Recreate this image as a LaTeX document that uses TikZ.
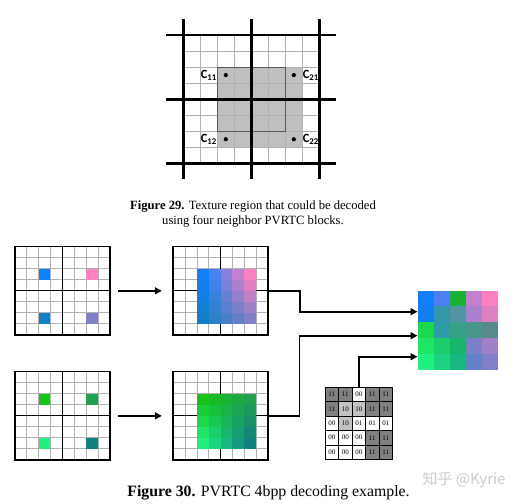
\documentclass[tikz,border=0pt]{standalone}
\usepackage{fontspec}
\setmainfont{Liberation Serif}
\newfontfamily\calfont{Carlito}
\newfontfamily\cjkfont{Noto Sans CJK SC}
\usetikzlibrary{arrows.meta,calc}
% corner colours of the two low-resolution images
\definecolor{bTL}{RGB}{16,128,255}
\definecolor{bTR}{RGB}{255,128,192}
\definecolor{bBL}{RGB}{16,128,200}
\definecolor{bBR}{RGB}{128,128,200}
\definecolor{aTL}{RGB}{20,196,24}
\definecolor{aTR}{RGB}{32,160,80}
\definecolor{aBL}{RGB}{32,240,128}
\definecolor{aBR}{RGB}{16,128,128}
\def\modrows{{11,11,00,11,11},{11,10,10,11,11},{00,10,01,01,01},{00,00,00,11,11},{00,00,00,11,11}}
\tikzset{
  fine/.style={draw=black!30, line width=0.7pt},
  heavy/.style={line width=2.8pt},
  blockframe/.style={line width=1.5pt},
  flow/.style={-{Triangle[length=7pt,width=7pt]}, line width=1.6pt},
  blockgrid/.style={minimum width=95pt, minimum height=88.3pt, inner sep=0pt},
  outimg/.style={minimum width=80.5pt, minimum height=79.5pt, inner sep=0pt},
  caption/.style={align=center, font=\fontsize{12.6}{14.5}\selectfont},
  cornerlabel/.style={font=\calfont\bfseries\fontsize{12.5}{12.5}\selectfont, inner sep=0pt},
  modcell/.style={draw, line width=0.6pt, minimum width=13.5pt, minimum height=14.4pt, inner sep=0pt, font=\fontsize{7}{7}\selectfont},
  pics/cellgrid/.style={code={
    \foreach \k in {1,...,7} \draw[fine] (\k,0) -- (\k,8) (0,\k) -- (8,\k);
    \draw[blockframe] (0,0) rectangle (8,8) (4,0) -- (4,8) (0,4) -- (8,4);
  }},
}

\begin{document}
\begin{tikzpicture}[x=1pt, y=-1pt]
  \fill[white] (0,0) rectangle (519,503);
  \useasboundingbox (0,0) rectangle (519,503);
  % Figure 29
  \begin{scope}[shift={(183.3,35)}, x=17pt, y=-16.04pt]
    \fill[black!25] (2,2) rectangle (7,7);
    \foreach \k in {1,...,7} \draw[fine] (\k,0) -- (\k,8) (0,\k) -- (8,\k);
    \draw[black!65, line width=0.8pt] (2,2) rectangle (6,6);
    \foreach \k in {0,4,8} \draw[heavy] (\k,-1) -- (\k,9) (-1,\k) -- (9,\k);
    \foreach \i/\j in {2/2,6/2,2/6,6/6} \fill (\i+0.5,\j+0.5) circle (2.1pt);
    \node[cornerlabel] (c11) at (1.5,2.5) {C\textsubscript{11}};
    \node[cornerlabel] (c21) at (7.5,2.5) {C\textsubscript{21}};
    \node[cornerlabel] (c12) at (1.5,6.5) {C\textsubscript{12}};
    \node[cornerlabel] (c22) at (7.5,6.5) {C\textsubscript{22}};
  \end{scope}
  \node[caption] (cap29) at (253,214) {\textbf{Figure 29.} Texture region that could be decoded\\using four neighbor PVRTC blocks.};
  % Figure 30: both low-res images and their upscaled versions
  \foreach \img/\gy in {b/246.7, a/371.7} {
    \node[blockgrid] (src\img) at (62.5,\gy+44.15) {};
    \node[blockgrid] (interp\img) at (220.8,\gy+44.15) {};
    \begin{scope}[shift={(src\img.north west)}, x=11.875pt, y=-11.04pt]
      \pic {cellgrid};
      \fill[fill=\img TL] (2,2) rectangle (3,3);
      \fill[fill=\img TR] (6,2) rectangle (7,3);
      \fill[fill=\img BL] (2,6) rectangle (3,7);
      \fill[fill=\img BR] (6,6) rectangle (7,7);
    \end{scope}
    \begin{scope}[shift={(interp\img.north west)}, x=11.875pt, y=-11.04pt]
      \pic {cellgrid};
      \foreach \i in {0,...,4} \foreach \j in {0,...,4} {
        \pgfmathsetmacro\p{25*\i}\pgfmathsetmacro\q{25*\j}
        \colorlet{rowtop}{\img TR!\p!\img TL}\colorlet{rowbot}{\img BR!\p!\img BL}
        \fill[fill=rowbot!\q!rowtop] (\i+2,\j+2) rectangle ++(1,1);
      }
    \end{scope}
    \draw[flow, shorten <=7.7pt, shorten >=11.3pt] (src\img) -- (interp\img);
  }
  % decoded output and modulation data
  \node[outimg] (out) at (457.95,330.45) {};
  \foreach \row [count=\j from 0] in \modrows
    \foreach \code [count=\i from 0] in \row {
      \pgfmathtruncatemacro\k{2*int(\code/10)+mod(\code,10)}
      \pgfmathsetmacro\w{{0,37.5,62.5,100}[\k]}
      \pgfmathsetmacro\g{{100,100,76,50}[\k]}
      \pgfmathsetmacro\p{25*\i}\pgfmathsetmacro\q{25*\j}
      \colorlet{rowtop}{bTR!\p!bTL}\colorlet{rowbot}{bBR!\p!bBL}\colorlet{mixb}{rowbot!\q!rowtop}
      \colorlet{rowtop}{aTR!\p!aTL}\colorlet{rowbot}{aBR!\p!aBL}\colorlet{mixa}{rowbot!\q!rowtop}
      \fill[fill=mixb!\w!mixa] ($(out.north west)+(\i*16.1,\j*15.9)$) rectangle ++(16.1,15.9);
      \node[modcell, fill=white!\g!black] (mod\i\j) at (331.75+13.5*\i,394.5+14.4*\j) {\code};
    }
  \coordinate (inB) at ([yshift=18.75pt]out.west);
  \coordinate (inA) at ([yshift=-5.25pt]out.west);
  \coordinate (inM) at ([yshift=-26.25pt]out.west);
  \draw[flow] (interpb.east) -- ++(31.7,0) |- (inB);
  \draw[flow] (interpa.east) -- ++(31,0) |- (inA);
  \draw[flow] (mod20.north) |- (inM);
  \node[caption, font=\fontsize{15.8}{18}\selectfont] (cap30) at (268.5,492.5) {\textbf{Figure 30.} PVRTC 4bpp decoding example.};
  \node[font=\cjkfont\fontsize{15}{15}\selectfont, text=black!20] (mark) at (464,479.5) {知乎 @Kyrie};
\end{tikzpicture}
\end{document}
